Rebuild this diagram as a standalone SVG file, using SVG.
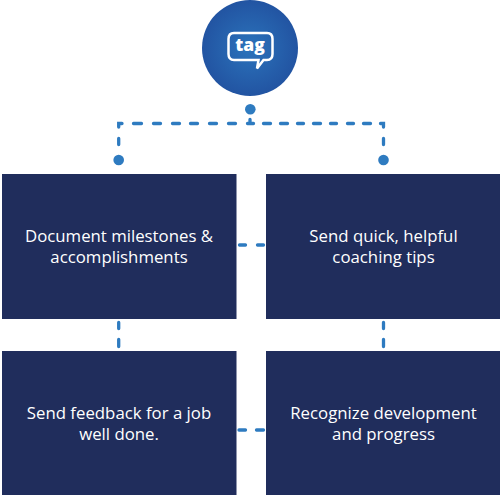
<svg xmlns="http://www.w3.org/2000/svg" width="500" height="495" viewBox="0 0 500 495">
<style>
.box{fill:#202d5c}
.lbl{font-family:"Open Sans","Noto Sans",sans-serif;font-size:16.8px;fill:#fff;text-anchor:middle}
.dash{fill:none;stroke:#2e7bc0;stroke-width:3.3;stroke-linecap:round}
.dot{fill:#2e7bc0}
</style>
<defs>
<radialGradient id="g" cx="50%" cy="50%" r="50%">
<stop offset="0" stop-color="#2b73bb"/>
<stop offset="1" stop-color="#2254a2"/>
</radialGradient>
</defs>
<g id="connectors">
<path class="dash" d="M118.700 127V123.500H122"/>
<path class="dash" d="M133.500 123.500H141.500M153.500 123.500H160.500M172.500 123.500H179.500M190.500 123.500H197.500M209.500 123.500H216.500M228.500 123.500H235.500M247.500 123.500H253.500M250 119.500V123.500M263.500 123.500H270.500M280.500 123.500H287.500M297.500 123.500H303.500M313.500 123.500H320.500M330.500 123.500H336.500M347.500 123.500H353.500M363.500 123.500H370.500"/>
<path class="dash" d="M380.500 123.500H383.500V127"/>
<path class="dash" d="M118.700 138.500V144.500M383.500 138.500V144.500"/>
<circle class="dot" cx="118.700" cy="160" r="5.300"/>
<circle class="dot" cx="383.500" cy="160" r="5.300"/>
<circle class="dot" cx="250.300" cy="109.300" r="5.300"/>
<path class="dash" d="M239.500 245H245.500M257.500 245H263.500"/>
<path class="dash" d="M118.700 322.500V328.500M118.700 339.500V346.500"/>
<path class="dash" d="M383.500 322.500V328.500M383.500 339.500V346.500"/>
<path class="dash" d="M239 430H245.500M256.500 430H263.500"/>
</g>
<g id="tag">
<circle cx="250" cy="48" r="48" fill="url(#g)"/>
<path d="M234 33H267Q272.500 33 272.500 39V54Q272.500 60 267 60H263.500L257 68.500L258.500 60H234Q228.500 60 228.500 54V39Q228.500 33 234 33Z" fill="none" stroke="#fff" stroke-width="2.500"/>
<text x="250" y="50.500" font-family="'Open Sans','Noto Sans',sans-serif" font-size="17.500" font-weight="800" fill="#fff" text-anchor="middle">tag</text>
</g>
<g id="milestones">
<rect class="box" x="2" y="174" width="234.500" height="145"/>
<text class="lbl" x="119" y="242">Document milestones &amp;</text>
<text class="lbl" x="119" y="263">accomplishments</text>
</g>
<g id="coaching">
<rect class="box" x="266" y="174" width="234" height="145"/>
<text class="lbl" x="383.500" y="242">Send quick, helpful</text>
<text class="lbl" x="383.500" y="263">coaching tips</text>
</g>
<g id="feedback">
<rect class="box" x="2" y="351" width="234.500" height="144"/>
<text class="lbl" x="119" y="419">Send feedback for a job</text>
<text class="lbl" x="119" y="440">well done.</text>
</g>
<g id="recognize">
<rect class="box" x="266" y="351" width="234" height="144"/>
<text class="lbl" x="383.500" y="419">Recognize development</text>
<text class="lbl" x="383.500" y="440">and progress</text>
</g>
</svg>
